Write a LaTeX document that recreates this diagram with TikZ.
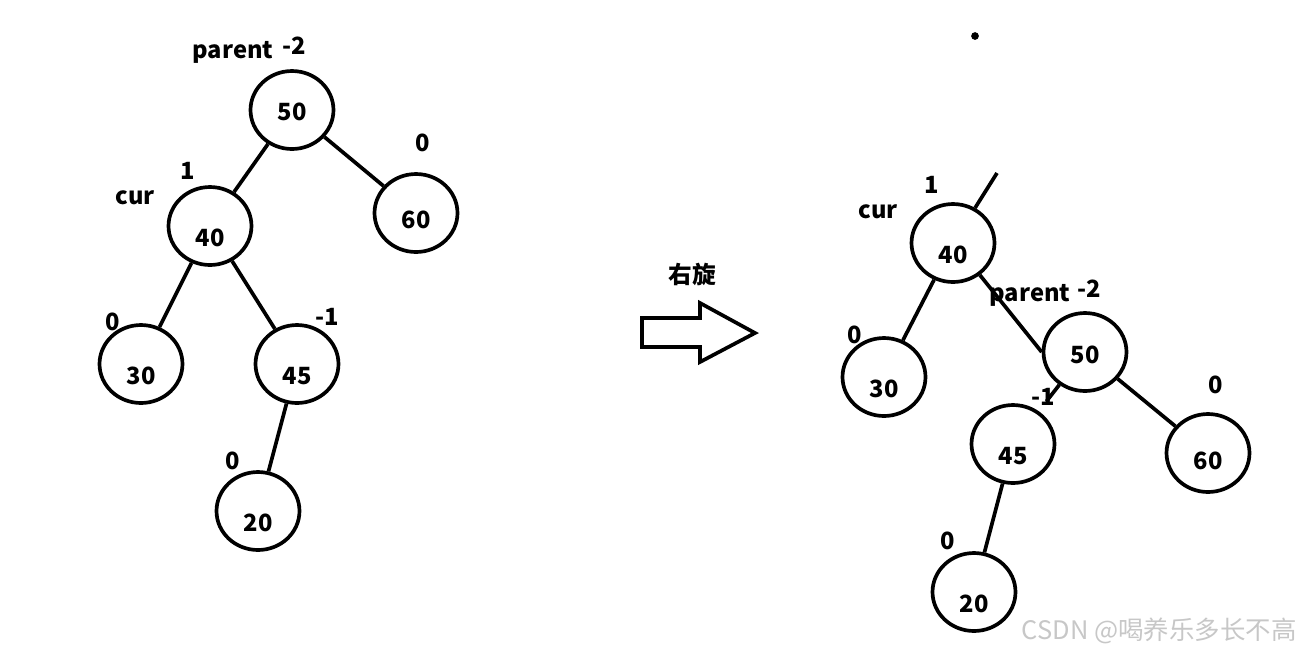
\documentclass[tikz,border=0pt]{standalone}
\usepackage{fontspec}
\setmainfont{Noto Sans CJK SC}
\usetikzlibrary{shapes.geometric}

\begin{document}
\begin{tikzpicture}[
    x=0.02cm, y=-0.02cm,
    every node/.style={font=\fontsize{13.5}{16}\selectfont\bfseries},
    ring/.style={draw, ellipse, line width=2.1pt, minimum width=1.66cm,
                 minimum height=1.56cm, inner sep=0pt, text depth=0pt, text height=#1},
    ring/.default=0.82cm,
    tag/.style={inner sep=0pt},
    edge/.style={line width=2.1pt},
  ]
  \useasboundingbox (0,0) rectangle (1302,654);

  % before the rotation
  \node[ring=0.42cm] (l50) at (292,110) {50};
  \node[ring=0.62cm] (l60) at (416,213) {60};
  \node[ring] (l40) at (210,226) {40};
  \node[ring] (l30) at (141,364) {30};
  \node[ring] (l45) at (297,364) {45};
  \node[ring] (l20) at (258,511) {20};

  \node[tag] (lpar) at (233,52) {parent};
  \node[tag] (lb50) at (294,46) {-2};
  \node[tag] (lb60) at (423,143) {0};
  \node[tag] (lb40) at (188,171) {1};
  \node[tag] (lcur) at (135,198) {cur};
  \node[tag] (lb30) at (113,322) {0};
  \node[tag] (lb45) at (327,317) {-1};
  \node[tag] (lb20) at (233,461) {0};

  \draw[edge] (l50) -- (l40);
  \draw[edge] (l50) -- (l60);
  \draw[edge] (l40) -- (l30);
  \draw[edge] (l40) -- (l45);
  \draw[edge] (l45) -- (l20);

  % arrow
  \node[tag] (rot) at (692,274) {右旋};
  \draw[line width=2.1pt] (642,318) -- (700,318) -- (700,303) -- (755,333)
    -- (700,362) -- (700,347) -- (642,347) -- cycle;

  % after the rotation
  \fill (975,36) circle (2.2pt);
  \node[ring] (r40) at (953,243) {40};
  \node[ring] (r30) at (884,377) {30};
  \node[ring=0.46cm] (r50) at (1085,352) {50};
  \node[ring] (r45) at (1013,444) {45};
  \node[ring=0.66cm] (r60) at (1208,453) {60};
  \node[ring] (r20) at (974,592) {20};

  \node[tag] (rb40) at (932,185) {1};
  \node[tag] (rcur) at (878,212) {cur};
  \node[tag] (rb30) at (855,335) {0};
  \node[tag] (rpar) at (1030,295) {parent};
  \node[tag] (rb50) at (1089,289) {-2};
  \node[tag] (rb45) at (1043,397) {-1};
  \node[tag] (rb60) at (1216,385) {0};
  \node[tag] (rb20) at (948,541) {0};

  \coordinate (up) at (997,173);
  \draw[edge] (r40) -- (up);
  \draw[edge] (r40) -- (r30);
  \draw[edge] (r40.-50) -- (r50.west);
  \draw[edge, shorten >=0.25cm] (r50) -- (r45);
  \draw[edge] (r50) -- (r60);
  \draw[edge] (r45) -- (r20);

  \node[tag, font=\fontsize{14.5}{16}\selectfont, text=black!22, anchor=east] (mark)
    at (1297,631) {CSDN @喝养乐多长不高};
\end{tikzpicture}
\end{document}
